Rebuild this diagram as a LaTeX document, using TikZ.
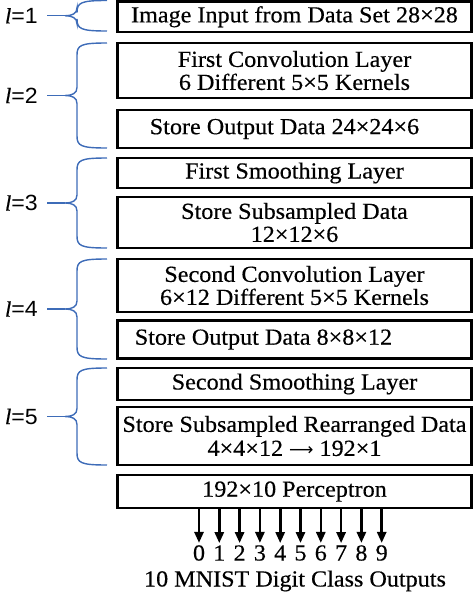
\documentclass[tikz,border=0pt]{standalone}
\usepackage{fontspec}
\setmainfont{Liberation Serif}[FakeStretch=1.05,FakeBold=0.4]
\newfontfamily\labfont{Liberation Sans}[FakeStretch=1.05]
\newfontfamily\symfont{DejaVu Sans}
\usetikzlibrary{arrows.meta}
\definecolor{bracecol}{RGB}{62,108,184}
\begin{document}
\begin{tikzpicture}[x=1pt,y=-1pt,line width=2.6pt,font=\fontsize{23}{23}\selectfont,
  box/.style={draw,minimum width=354pt,inner sep=0pt,align=center},
  brace/.style={draw=bracecol,line width=1.4pt},
  >={Triangle[width=9pt,length=11pt]}]
  \useasboundingbox (0,0) rectangle (474,592);
  % layer boxes
  \node[box,minimum height=30.5pt] (input)   at (294.5,16.75) {Image Input from Data Set 28×28};
  \node[box,minimum height=55pt]   (conv1)   at (294.5,70.5)  {First Convolution Layer\\6 Different 5×5 Kernels};
  \node[box,minimum height=38pt]   (out1)    at (294.5,129)   {\hspace*{-20pt}Store Output Data 24×24×6};
  \node[box,minimum height=30pt]   (smooth1) at (294.5,173)   {First Smoothing Layer};
  \node[box,minimum height=51pt]   (sub1)    at (294.5,222.5) {Store Subsampled Data\\12×12×6};
  \node[box,minimum height=53pt]   (conv2)   at (294.5,285.5) {Second Convolution Layer\\6×12 Different 5×5 Kernels};
  \node[box,minimum height=38pt]   (out2)    at (294.5,339.5) {\hspace*{-62pt}Store Output Data 8×8×12};
  \node[box,minimum height=32pt]   (smooth2) at (294.5,384)   {Second Smoothing Layer};
  \node[box,minimum height=58pt]   (sub2)    at (294.5,436)   {Store Subsampled Rearranged Data\\[1pt]4×4×12 {\symfont\fontsize{17}{17}\selectfont ⟶} 192×1};
  \node[box,minimum height=33pt]   (perc)    at (294.5,491.5) {192×10 Perceptron};
  % outputs
  \foreach \i in {0,...,9} {
    \node[inner sep=1pt] (d\i) at (199+20.3*\i,553) {\i};
    \draw[->,line width=2.6pt] (perc.south -| d\i.north) -- (d\i.north);
  }
  \node (cap) at (295,581) {10 MNIST Digit Class Outputs};
  % layer braces
  \foreach \n/\t/\b in {1/0.5/31,2/43/148,3/158/248,4/259/359,5/368/465} {
    \pgfmathsetmacro\m{(\t+\b)/2}
    \node[anchor=east,inner sep=0pt,font=\fontsize{22}{22}\selectfont] (l\n) at (39,\m) {\textit{l}\labfont =\n};
    \coordinate (t\n) at (65,\m);
    \draw[brace] (107,\t) .. controls (81,\t) and (77,\t+2) .. (77,\t+12)
      -- (77,\m-8) .. controls (77,\m-2) and (72,\m) .. (t\n)
      .. controls (72,\m) and (77,\m+2) .. (77,\m+8)
      -- (77,\b-12) .. controls (77,\b-2) and (81,\b) .. (107,\b);
    \draw[brace] ([xshift=8pt]l\n.east) -- (t\n);
  }
\end{tikzpicture}
\end{document}
